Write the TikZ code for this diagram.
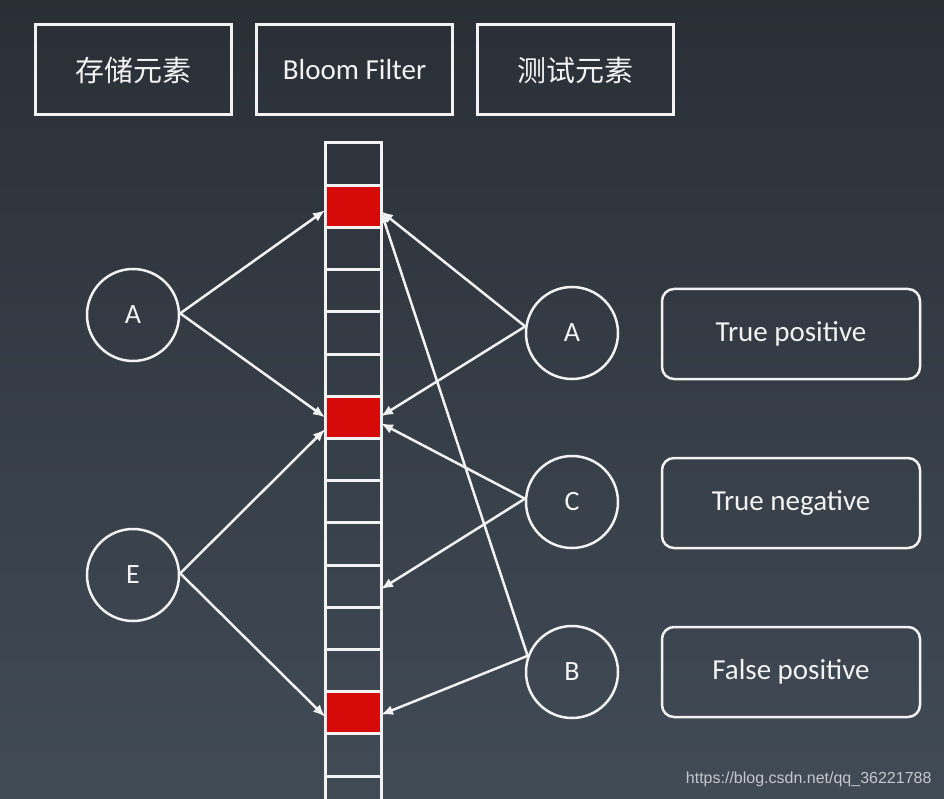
\documentclass[tikz,border=0pt]{standalone}
\usepackage{fontspec}
\setmainfont{Carlito}
\newfontfamily\cjk{Noto Sans CJK SC}
\newfontfamily\wmfont{Liberation Sans}
\usepackage{tikz}
\usetikzlibrary{arrows.meta, positioning}
\definecolor{BF_TOP}{HTML}{2A2F36}
\definecolor{BF_BOT}{HTML}{414B56}
\definecolor{BF_RED}{HTML}{D70A0A}
\definecolor{BF_LINE}{HTML}{F2F2F2}
\definecolor{BF_GREY}{HTML}{C4C8CC}
\tikzset{
  hdr/.style={
    rectangle, minimum width=196pt, minimum height=90pt,
    text centered, align=center,
    draw=BF_LINE, line width=3pt, text=BF_LINE,
    font=\fontsize{29}{32}\selectfont},
  cell/.style={
    rectangle, inner sep=0pt, outer sep=0pt,
    minimum width=56pt, minimum height=42.2pt,
    draw=BF_LINE, line width=3pt},
  hit/.style={cell, fill=BF_RED},
  elem/.style={
    circle, minimum size=92pt, inner sep=0pt,
    draw=BF_LINE, line width=2.5pt, text=BF_LINE,
    font=\fontsize{28}{30}\selectfont},
  res/.style={
    rectangle, rounded corners=12pt,
    minimum width=258pt, minimum height=90pt,
    text centered, align=center,
    draw=BF_LINE, line width=2.5pt, text=BF_LINE,
    font=\fontsize{29}{32}\selectfont},
  arr/.style={-{Latex[length=12pt,width=10pt]}, line width=2.5pt, draw=BF_LINE},
}

\begin{document}
\begin{tikzpicture}[x=1pt, y=-1pt]

  % background
  \clip (0,0) rectangle (944,799);
  \shade[top color=BF_TOP, bottom color=BF_BOT] (0,0) rectangle (944,799);

  % headers
  \node[hdr] (h1) at (133.5,70) {\cjk 存储元素};
  \node[hdr, right=22pt of h1] (h2) {Bloom Filter};
  \node[hdr, right=22pt of h2] (h3) {\cjk 测试元素};

  % bit array
  \foreach \i in {0,...,15}
    \node[cell] (c\i) at (353,{143+42.2*(\i+0.5)}) {};
  \foreach \i in {1,6,13}
    \node[hit] (r\i) at (c\i) {};

  % stored elements
  \node[elem] (sa) at (133,315) {A};
  \node[elem] (se) at (133,575) {E};

  % tested elements
  \node[elem] (ta) at (572,333) {A};
  \node[elem] (tc) at (572,502) {C};
  \node[elem] (tb) at (572,672) {B};

  % results
  \node[res] (p1) at (791,334) {True positive};
  \node[res] (p2) at (791,503) {True negative};
  \node[res] (p3) at (791,672) {False positive};

  % insert
  \draw[arr] (sa.2) -- ([yshift=-4pt]r1.west);
  \draw[arr] (sa.2) -- (r6.west);
  \draw[arr] (se.2) -- ([yshift=-12pt]r6.west);
  \draw[arr] (se.2) -- ([yshift=-4pt]r13.west);

  % query
  \draw[arr] (ta.172) -- ([yshift=-5pt]r1.east);
  \draw[arr] (ta.172) -- ([yshift=1pt]r6.east);
  \draw[arr] (tc.176) -- ([yshift=-6pt]r6.east);
  \draw[arr] (tc.176) -- ([yshift=-3pt]c10.east);
  \draw[arr] (tb.160) -- ([yshift=-5pt]r1.east);
  \draw[arr] (tb.160) -- ([yshift=-2pt]r13.east);

  \node[anchor=east, text=BF_GREY, font=\wmfont\fontsize{16}{18}\selectfont] (wm) at (935,779)
    {https://blog.csdn.net/qq\_36221788};

\end{tikzpicture}
\end{document}
